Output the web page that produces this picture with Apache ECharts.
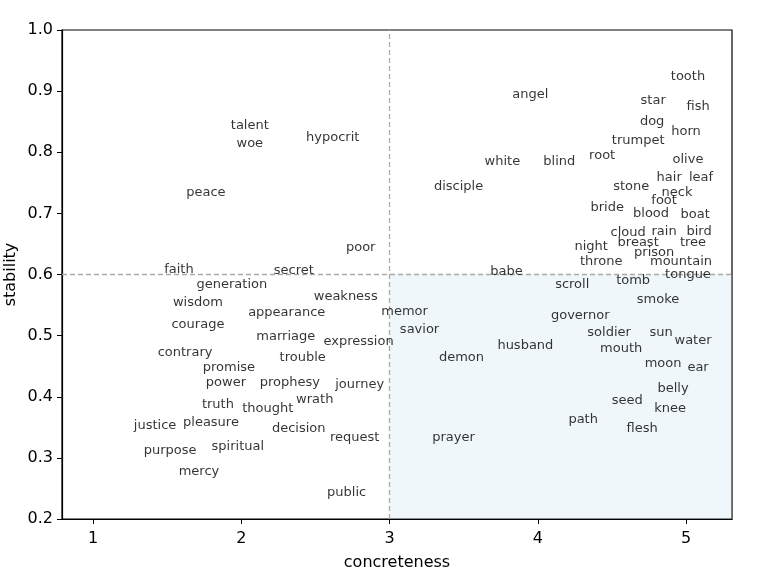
<!DOCTYPE html>
<html>
<head>
<meta charset="utf-8">
<script src="https://cdn.jsdelivr.net/npm/echarts@6/dist/echarts.min.js"></script>
<style>html,body{margin:0;padding:0;background:#fff}#c{width:759px;height:575px}</style>
</head>
<body>
<div id="c"></div>
<script>
const words = ["talent","woe","hypocrit","peace","poor","faith","secret","generation","weakness","wisdom","appearance","memor","courage","savior","marriage","expression","contrary","trouble","demon","husband","promise","power","prophesy","journey","wrath","truth","thought","justice","pleasure","decision","request","purpose","spiritual","mercy","public","prayer",
"tooth","angel","star","fish","dog","horn","trumpet","root","white","blind","olive","hair","leaf","disciple","stone","neck","foot","bride","blood","boat","cloud","rain","bird","night","breast","tree","prison","throne","mountain","babe","tongue",
"scroll","tomb","smoke","governor","soldier","sun","water","mouth","moon","ear","belly","seed","knee","path","flesh"];
const concreteness = [2.057,2.057,2.616,1.761,2.805,1.579,2.354,1.936,2.704,1.707,2.306,3.101,1.707,3.202,2.300,2.791,1.620,2.414,3.485,3.916,1.916,1.896,2.327,2.798,2.495,1.842,2.178,1.418,1.795,2.387,2.764,1.519,1.976,1.714,2.710,3.431,
5.013,3.949,4.778,5.081,4.771,5.000,4.677,4.434,3.761,4.145,5.013,4.886,5.101,3.465,4.630,4.939,4.852,4.468,4.764,5.061,4.609,4.852,5.088,4.360,4.677,5.047,4.785,4.428,4.966,3.788,5.013,
4.232,4.643,4.811,4.286,4.481,4.832,5.047,4.562,4.845,5.081,4.912,4.603,4.892,4.306,4.704];
const stability = [0.844,0.814,0.824,0.734,0.644,0.608,0.606,0.583,0.564,0.554,0.538,0.539,0.518,0.510,0.498,0.490,0.472,0.464,0.464,0.483,0.447,0.423,0.423,0.420,0.395,0.387,0.380,0.353,0.357,0.348,0.333,0.312,0.318,0.277,0.243,0.333,
0.924,0.894,0.884,0.875,0.850,0.834,0.819,0.794,0.785,0.785,0.788,0.758,0.758,0.744,0.744,0.734,0.721,0.709,0.699,0.698,0.668,0.670,0.670,0.646,0.652,0.652,0.636,0.621,0.621,0.605,0.600,
0.583,0.590,0.559,0.533,0.505,0.505,0.492,0.479,0.454,0.447,0.413,0.393,0.380,0.362,0.348];
const xTicks = [1,2,3,4,5];
const xThreshold = 3, yThreshold = 0.6;
const xMin = 0.79, xMax = 5.31, yMin = 0.2, yMax = 1.0;

const data = words.map((w,i)=>[concreteness[i], stability[i], w]);
const font = "DejaVu Sans";
const chart = echarts.init(document.getElementById('c'), null, {renderer:'canvas'});
chart.setOption({
  animation:false,
  backgroundColor:'#fff',
  grid:{left:62,right:27,top:30,bottom:56,containLabel:false,outerBoundsMode:'none',show:true,borderColor:'#000',borderWidth:1.2,backgroundColor:'transparent'},
  xAxis:{type:'value',min:xMin,max:xMax,
    name:'concreteness',nameLocation:'middle',nameGap:36,nameMoveOverlap:false,
    nameTextStyle:{fontFamily:font,fontSize:16,color:'#000'},
    axisLine:{show:true,onZero:false,lineStyle:{color:'#000',width:1.2}},
    axisTick:{show:true,length:5,lineStyle:{color:'#000'},customValues:xTicks},
    axisLabel:{fontFamily:font,fontSize:16,color:'#000',margin:12,customValues:xTicks},
    splitLine:{show:false}},
  yAxis:{type:'value',min:yMin,max:yMax,interval:0.1,
    name:'stability',nameLocation:'middle',nameGap:43,nameMoveOverlap:false,
    nameTextStyle:{fontFamily:font,fontSize:16,color:'#000'},
    axisLine:{show:true,onZero:false,lineStyle:{color:'#000',width:1.2}},
    axisTick:{show:true,length:5,lineStyle:{color:'#000'}},
    axisLabel:{fontFamily:font,fontSize:16,color:'#000',margin:9,formatter:v=>v.toFixed(1)},
    splitLine:{show:false}},
  series:[{
    type:'scatter',
    data:data,
    symbolSize:1,
    itemStyle:{color:'rgba(0,0,0,0)'},
    label:{show:true,position:'inside',formatter:p=>p.data[2],fontFamily:font,fontSize:13,color:'#000',textBorderWidth:0},
    emphasis:{disabled:true},
    z:5,
    markArea:{silent:true,itemStyle:{color:'rgba(173,216,230,0.2)'},
      data:[[{coord:[xThreshold,yMin]},{coord:[xMax,yThreshold]}]]},
    markLine:{silent:true,symbol:'none',label:{show:false},
      lineStyle:{color:'#aaaaaa',type:[5,3],width:1.3},
      data:[{xAxis:xThreshold},{yAxis:yThreshold}]}
  }]
});
</script>
</body>
</html>
